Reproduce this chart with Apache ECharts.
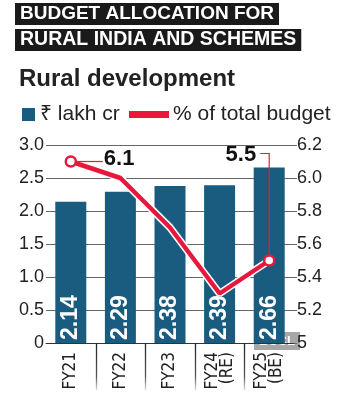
<!DOCTYPE html>
<html><head><meta charset="utf-8">
<script src="https://cdn.jsdelivr.net/npm/echarts@6/dist/echarts.min.js"></script>
<style>html,body{margin:0;padding:0;background:#fff}#c{width:340px;height:396px}</style>
</head><body><div id="c"></div>
<script>
// ---- data ----
const categories = ['FY21', 'FY22', 'FY23', 'FY24\n(RE)', 'FY25\n(BE)'];
const allocation = [2.14, 2.29, 2.38, 2.39, 2.66];          // ₹ lakh cr
const shareOfBudget = [6.1, 6.0, 5.7, 5.3, 5.5];            // % of total budget
const annotatedIdx = [0, 4];                                  // points with callouts
const leftTicks = [0, 0.5, 1.0, 1.5, 2.0, 2.5, 3.0];
const rightTicks = [5, 5.2, 5.4, 5.6, 5.8, 6.0, 6.2];
const seriesNames = ['₹ lakh cr', '% of total budget'];

// ---- style ----
const BLUE = '#1a5c80';
const RED = '#e8183c';
const COND = '"DejaVu Sans Condensed", "Liberation Sans", sans-serif';
const SANS = '"Liberation Sans", Arial, sans-serif';

const chart = echarts.init(document.getElementById('c'), null, {renderer: 'canvas'});

const tickLabel = (v) => (v === leftTicks[0] || v === rightTicks[0]) ? String(v) : v.toFixed(1);

const option = {
  animation: false,
  backgroundColor: '#fff',
  title: [
    {text: 'BUDGET ALLOCATION FOR', left: 15, top: 3, backgroundColor: '#1a1a1a', padding: [0, 5, 0, 5],
     textStyle: {color: '#fff', fontFamily: SANS, fontWeight: 'bold', fontSize: 19, lineHeight: 22}},
    {text: 'RURAL INDIA AND SCHEMES', left: 15, top: 29, backgroundColor: '#1a1a1a', padding: [0, 5, 0, 5],
     textStyle: {color: '#fff', fontFamily: SANS, fontWeight: 'bold', fontSize: 19.5, lineHeight: 22}},
    {text: 'Rural development', left: 14, top: 62,
     textStyle: {color: '#222', fontFamily: SANS, fontWeight: 'bold', fontSize: 24}}
  ],
  legend: [
    {data: [seriesNames[0]], left: 17, top: 99, itemWidth: 13, itemHeight: 13, icon: 'rect',
     textStyle: {color: '#222', fontFamily: SANS, fontSize: 21}},
    {data: [{name: seriesNames[1], itemStyle: {color: RED}}], left: 124, top: 99, itemWidth: 38, itemHeight: 5, icon: 'rect',
     textStyle: {color: '#222', fontFamily: SANS, fontSize: 21}}
  ],
  grid: {left: 46, right: 46, top: 145, bottom: 53},
  xAxis: {
    type: 'category', data: categories, boundaryGap: true,
    axisLine: {show: true, lineStyle: {color: '#333', width: 1}},
    axisTick: {show: false},
    axisLabel: {rotate: 90, margin: 9, color: '#222', fontFamily: COND, fontSize: 17, lineHeight: 15}
  },
  yAxis: [
    {type: 'value', min: leftTicks[0], max: leftTicks[leftTicks.length - 1], interval: 0.5, position: 'left',
     axisLine: {show: false}, axisTick: {show: false},
     axisLabel: {margin: 2, color: '#222', fontFamily: SANS, fontSize: 18, formatter: tickLabel},
     splitLine: {show: true, lineStyle: {color: '#666', width: 1}}},
    {type: 'value', min: rightTicks[0], max: rightTicks[rightTicks.length - 1], interval: 0.2, position: 'right',
     axisLine: {show: false}, axisTick: {show: true, length: 3, lineStyle: {color: '#666'}},
     axisLabel: {margin: 3, color: '#222', fontFamily: SANS, fontSize: 18, formatter: tickLabel},
     splitLine: {show: false}}
  ],
  series: [
    {name: seriesNames[0], type: 'bar', yAxisIndex: 0, data: allocation, barWidth: 31,
     itemStyle: {color: BLUE},
     label: {show: true, position: 'insideBottom', rotate: 90, align: 'left', verticalAlign: 'middle', distance: 3,
       color: '#fff', fontFamily: SANS, fontWeight: 'bold', fontSize: 23,
       formatter: (p) => p.value.toFixed(2)}},
    {name: 'halo', type: 'line', yAxisIndex: 1, data: shareOfBudget, symbol: 'none', silent: true,
     lineStyle: {color: '#fff', width: 7.5}, z: 3},
    {name: seriesNames[1], type: 'line', yAxisIndex: 1, symbol: 'circle', showSymbol: true, z: 4,
     data: shareOfBudget.map((v, i) => annotatedIdx.includes(i)
        ? {value: v, symbol: 'circle', symbolSize: 10}
        : {value: v, symbol: 'none'}),
     lineStyle: {color: RED, width: 4.5},
     itemStyle: {color: '#fff', borderColor: RED, borderWidth: 2.5}},
    {name: 'callouts', type: 'custom', yAxisIndex: 1, z: 5, silent: true,
     data: annotatedIdx.map(i => [i, shareOfBudget[i]]),
     renderItem: function (params, api) {
       const p = api.coord([api.value(0), api.value(1)]);
       const txt = api.value(1).toFixed(1);
       const font = 'bold 22px ' + SANS;
       if (params.dataIndex === 0) {
         return {type: 'group', children: [
           {type: 'line', shape: {x1: p[0] + 5, y1: p[1], x2: p[0] + 32, y2: p[1]}, style: {stroke: RED, lineWidth: 1.2}},
           {type: 'text', x: p[0] + 33, y: p[1] - 3, style: {text: txt, font: font, fill: '#111', verticalAlign: 'middle', align: 'left'}}
         ]};
       }
       const ty = p[1] - 107;
       return {type: 'group', children: [
         {type: 'polyline', shape: {points: [[p[0], p[1] - 5], [p[0], ty], [p[0] - 9, ty]]}, style: {stroke: RED, lineWidth: 1.2, fill: null}},
         {type: 'text', x: p[0] - 13, y: ty + 1, style: {text: txt, font: font, fill: '#111', verticalAlign: 'middle', align: 'right'}}
       ]};
     }},
    {name: 'separators', type: 'custom', yAxisIndex: 1, z: 2, silent: true, clip: false,
     data: categories.slice(1).map((c, i) => [i + 1, rightTicks[0]]),
     renderItem: function (params, api) {
       const p = api.coord([api.value(0), api.value(1)]);
       const half = api.size([1, 0])[0] / 2;
       const x = Math.round(p[0] - half) + 0.5;
       return {type: 'line', shape: {x1: x, y1: p[1], x2: x, y2: p[1] + 47},
         style: {lineWidth: 1.3, stroke: new echarts.graphic.LinearGradient(0, 0, 0, 1,
           [{offset: 0, color: '#222'}, {offset: 0.7, color: '#555'}, {offset: 1, color: '#ddd'}])}};
     }}
  ],
  graphic: [
    {type: 'group', right: 40, bottom: 46, z: 100, children: [
      {type: 'rect', shape: {x: 0, y: 0, width: 46, height: 18}, style: {fill: 'rgba(120,120,120,0.65)'}},
      {type: 'text', x: 23, y: 9, style: {text: 'BCCL', fill: '#fff', font: 'bold 13px ' + SANS, align: 'center', verticalAlign: 'middle'}}
    ]}
  ]
};
chart.setOption(option);
</script></body></html>
